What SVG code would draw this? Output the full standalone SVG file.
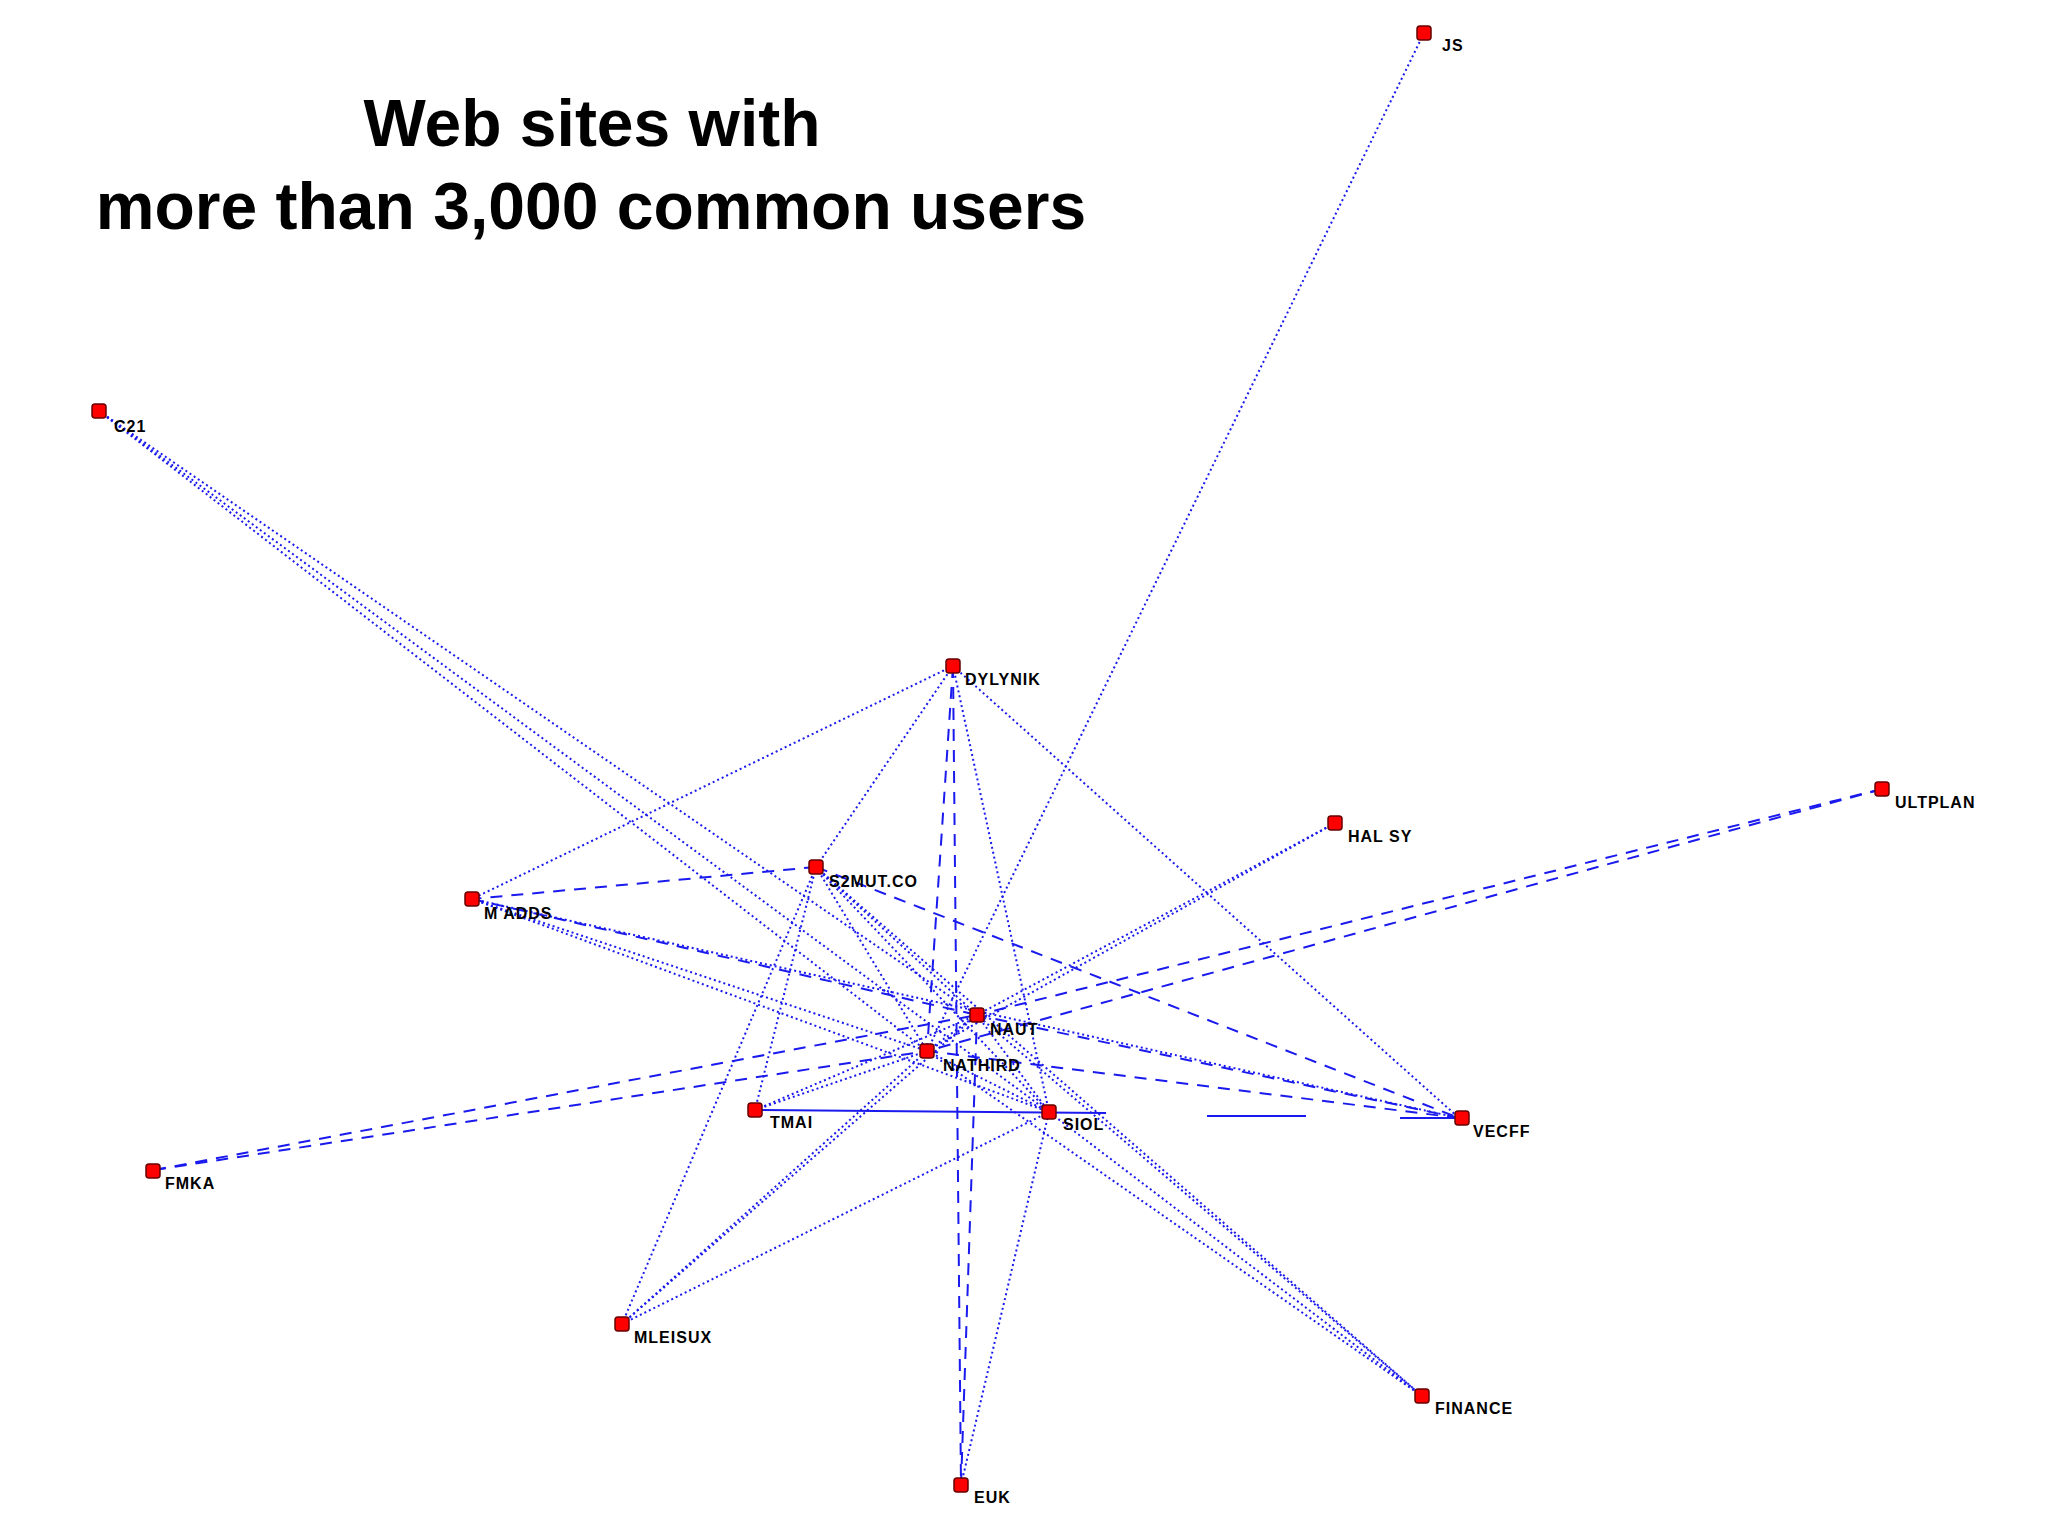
<svg xmlns="http://www.w3.org/2000/svg" width="2048" height="1536" viewBox="0 0 2048 1536">
<style>
.title{font-family:"Liberation Sans",Arial,sans-serif;font-weight:bold;font-size:66px;fill:#000}
.lbl{font-family:"Liberation Sans",Arial,sans-serif;font-size:16px;font-weight:bold;letter-spacing:1px;fill:#000}
.node rect{fill:#ff0000;stroke:#600;stroke-width:1.5}
.e{fill:none;stroke:#1a1aee;stroke-width:2}
.dot{stroke-dasharray:2 3}
.dash{stroke-dasharray:12 9}
</style>
<rect width="2048" height="1536" fill="#fff"/>
<text class="title" x="592" y="146" text-anchor="middle">Web sites with</text>
<text class="title" x="591" y="229" text-anchor="middle">more than 3,000 common users</text>
<g id="connectors">
<line class="e dot" x1="1424" y1="33" x2="927" y2="1051"/>
<line class="e dot" x1="99" y1="411" x2="977" y2="1015"/>
<line class="e dot" x1="99" y1="411" x2="927" y2="1051"/>
<line class="e dot" x1="99" y1="411" x2="1049" y2="1112"/>
<line class="e dot" x1="953" y1="666" x2="472" y2="899"/>
<line class="e dot" x1="953" y1="666" x2="816" y2="867"/>
<line class="e dash" x1="953" y1="666" x2="961" y2="1485"/>
<line class="e dash" x1="953" y1="666" x2="927" y2="1051"/>
<line class="e dot" x1="953" y1="666" x2="1049" y2="1112"/>
<line class="e dot" x1="953" y1="666" x2="1459" y2="1118"/>
<line class="e dot" x1="1335" y1="823" x2="977" y2="1015"/>
<line class="e dot" x1="1335" y1="823" x2="927" y2="1051"/>
<line class="e dash" x1="1882" y1="789" x2="977" y2="1015"/>
<line class="e dash" x1="1882" y1="789" x2="927" y2="1051"/>
<line class="e dash" x1="816" y1="867" x2="472" y2="899"/>
<line class="e dot" x1="816" y1="867" x2="755" y2="1110"/>
<line class="e dot" x1="816" y1="867" x2="622" y2="1324"/>
<line class="e dot" x1="816" y1="867" x2="977" y2="1015"/>
<line class="e dot" x1="816" y1="867" x2="927" y2="1051"/>
<line class="e dot" x1="816" y1="867" x2="1049" y2="1112"/>
<line class="e dash" x1="816" y1="867" x2="1459" y2="1118"/>
<line class="e dot" x1="816" y1="867" x2="1422" y2="1396"/>
<line class="e dash" x1="472" y1="899" x2="977" y2="1015"/>
<line class="e dot" x1="472" y1="899" x2="927" y2="1051"/>
<line class="e dot" x1="472" y1="899" x2="1049" y2="1112"/>
<line class="e dot" x1="472" y1="899" x2="1459" y2="1118"/>
<line class="e dash" x1="154" y1="1170" x2="977" y2="1015"/>
<line class="e dash" x1="154" y1="1170" x2="927" y2="1051"/>
<line class="e" x1="755" y1="1110" x2="1106" y2="1113"/>
<line class="e dot" x1="755" y1="1110" x2="977" y2="1015"/>
<line class="e dot" x1="755" y1="1110" x2="927" y2="1051"/>
<line class="e dot" x1="622" y1="1324" x2="977" y2="1015"/>
<line class="e dot" x1="622" y1="1324" x2="927" y2="1051"/>
<line class="e dot" x1="622" y1="1324" x2="1049" y2="1112"/>
<line class="e dot" x1="1422" y1="1396" x2="977" y2="1015"/>
<line class="e dot" x1="1422" y1="1396" x2="927" y2="1051"/>
<line class="e dot" x1="1422" y1="1396" x2="1049" y2="1112"/>
<line class="e dash" x1="961" y1="1485" x2="977" y2="1015"/>
<line class="e dot" x1="961" y1="1485" x2="1049" y2="1112"/>
<line class="e dash" x1="1459" y1="1118" x2="977" y2="1015"/>
<line class="e dash" x1="1459" y1="1118" x2="927" y2="1051"/>
<line class="e" x1="1207" y1="1116" x2="1306" y2="1116"/>
<line class="e" x1="1400" y1="1118" x2="1459" y2="1118"/>
<line class="e dot" x1="977" y1="1015" x2="927" y2="1051"/>
<line class="e dot" x1="977" y1="1015" x2="1049" y2="1112"/>
<line class="e dot" x1="927" y1="1051" x2="1049" y2="1112"/>
</g>
<g id="n-js" class="node"><rect x="1417" y="26" width="14" height="14" rx="3"/><text class="lbl" x="1442" y="51">JS</text></g>
<g id="n-c21" class="node"><rect x="92" y="404" width="14" height="14" rx="3"/><text class="lbl" x="114" y="432">C21</text></g>
<g id="n-dylynik" class="node"><rect x="946" y="659" width="14" height="14" rx="3"/><text class="lbl" x="965" y="685">DYLYNIK</text></g>
<g id="n-halsy" class="node"><rect x="1328" y="816" width="14" height="14" rx="3"/><text class="lbl" x="1348" y="842">HAL SY</text></g>
<g id="n-ultplan" class="node"><rect x="1875" y="782" width="14" height="14" rx="3"/><text class="lbl" x="1895" y="808">ULTPLAN</text></g>
<g id="n-s2mutco" class="node"><rect x="809" y="860" width="14" height="14" rx="3"/><text class="lbl" x="829" y="887">S2MUT.CO</text></g>
<g id="n-madds" class="node"><rect x="465" y="892" width="14" height="14" rx="3"/><text class="lbl" x="484" y="919">M ADDS</text></g>
<g id="n-naut" class="node"><rect x="970" y="1008" width="14" height="14" rx="3"/><text class="lbl" x="990" y="1035">NAUT</text></g>
<g id="n-nathird" class="node"><rect x="920" y="1044" width="14" height="14" rx="3"/><text class="lbl" x="943" y="1071">NATHIRD</text></g>
<g id="n-tmai" class="node"><rect x="748" y="1103" width="14" height="14" rx="3"/><text class="lbl" x="770" y="1128">TMAI</text></g>
<g id="n-siol" class="node"><rect x="1042" y="1105" width="14" height="14" rx="3"/><text class="lbl" x="1063" y="1130">SIOL</text></g>
<g id="n-vecff" class="node"><rect x="1455" y="1111" width="14" height="14" rx="3"/><text class="lbl" x="1473" y="1137">VECFF</text></g>
<g id="n-fmka" class="node"><rect x="146" y="1164" width="14" height="14" rx="3"/><text class="lbl" x="165" y="1189">FMKA</text></g>
<g id="n-mleisux" class="node"><rect x="615" y="1317" width="14" height="14" rx="3"/><text class="lbl" x="634" y="1343">MLEISUX</text></g>
<g id="n-finance" class="node"><rect x="1415" y="1389" width="14" height="14" rx="3"/><text class="lbl" x="1435" y="1414">FINANCE</text></g>
<g id="n-euk" class="node"><rect x="954" y="1478" width="14" height="14" rx="3"/><text class="lbl" x="974" y="1503">EUK</text></g>
</svg>
